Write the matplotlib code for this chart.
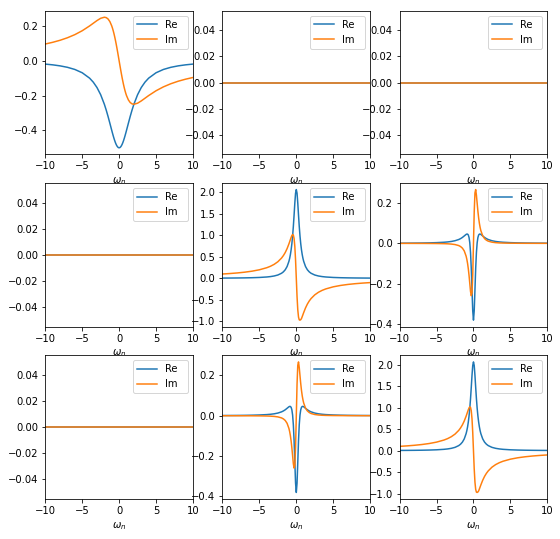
import matplotlib
matplotlib.use("Agg")
import matplotlib.pyplot as plt
import numpy as np

# Matsubara-frequency grid (x values)
omega_n = [-10, -9, -8, -7, -6, -5, -4, -3.5, -3, -2.5, -2, -1.75, -1.5, -1.25, -1,
           -0.9, -0.8, -0.7, -0.6, -0.5, -0.4, -0.3, -0.2, -0.1, 0,
           0.1, 0.2, 0.3, 0.4, 0.5, 0.6, 0.7, 0.8, 0.9, 1, 1.25, 1.5, 1.75, 2,
           2.5, 3, 3.5, 4, 5, 6, 7, 8, 9, 10]

# Component (0,0)
g00_re = [-0.0192, -0.0235, -0.0294, -0.0377, -0.0500, -0.0690, -0.1000, -0.1231, -0.1538,
          -0.1951, -0.2500, -0.2832, -0.3200, -0.3596, -0.4000, -0.4158, -0.4310, -0.4454,
          -0.4587, -0.4706, -0.4808, -0.4890, -0.4950, -0.4988, -0.5000,
          -0.4988, -0.4950, -0.4890, -0.4808, -0.4706, -0.4587, -0.4454, -0.4310, -0.4158,
          -0.4000, -0.3596, -0.3200, -0.2832, -0.2500, -0.1951, -0.1538, -0.1231, -0.1000,
          -0.0690, -0.0500, -0.0377, -0.0294, -0.0235, -0.0192]
g00_im = [0.0962, 0.1059, 0.1176, 0.1321, 0.1500, 0.1724, 0.2000, 0.2154, 0.2308, 0.2439,
          0.2500, 0.2478, 0.2400, 0.2247, 0.2000, 0.1871, 0.1724, 0.1559, 0.1376, 0.1176,
          0.0962, 0.0733, 0.0495, 0.0249, 0.0,
          -0.0249, -0.0495, -0.0733, -0.0962, -0.1176, -0.1376, -0.1559, -0.1724, -0.1871,
          -0.2000, -0.2247, -0.2400, -0.2478, -0.2500, -0.2439, -0.2308, -0.2154, -0.2000,
          -0.1724, -0.1500, -0.1321, -0.1176, -0.1059, -0.0962]

# Diagonal components (1,1) and (2,2)
g11_re = [0.0050, 0.0062, 0.0078, 0.0101, 0.0138, 0.0198, 0.0307, 0.0399, 0.0539, 0.0766,
          0.1170, 0.1499, 0.1982, 0.2727, 0.3941, 0.4640, 0.5518, 0.6630, 0.8041, 0.9828,
          1.2048, 1.4675, 1.7462, 1.9772, 2.0602,
          1.9772, 1.7462, 1.4675, 1.2048, 0.9828, 0.8041, 0.6630, 0.5518, 0.4640, 0.3941,
          0.2727, 0.1982, 0.1499, 0.1170, 0.0766, 0.0539, 0.0399, 0.0307, 0.0198, 0.0138,
          0.0101, 0.0078, 0.0062, 0.0050]
g11_im = [0.0997, 0.1108, 0.1245, 0.1421, 0.1655, 0.1980, 0.2460, 0.2798, 0.3241, 0.3842,
          0.4699, 0.5274, 0.5987, 0.6883, 0.7989, 0.8486, 0.8998, 0.9496, 0.9921, 1.0167,
          1.0044, 0.9255, 0.7405, 0.4221, 0.0,
          -0.4221, -0.7300, -0.9000, -0.9650, -0.9710, -0.9600, -0.9350, -0.8900, -0.8430,
          -0.7960, -0.6870, -0.5980, -0.5270, -0.4699, -0.3842, -0.3241, -0.2798, -0.2460,
          -0.1980, -0.1655, -0.1421, -0.1245, -0.1108, -0.0997]

# Off-diagonal components (1,2) and (2,1)
g12_re = [0.0009, 0.0011, 0.0014, 0.0018, 0.0025, 0.0036, 0.0055, 0.0071, 0.0094, 0.0131,
          0.0191, 0.0236, 0.0294, 0.0368, 0.0443, 0.0462, 0.0459, 0.0415, 0.0291, 0.0031,
          -0.0451, -0.1234, -0.2300, -0.3349, -0.3810,
          -0.3349, -0.2300, -0.1234, -0.0451, 0.0031, 0.0291, 0.0415, 0.0459, 0.0462,
          0.0443, 0.0368, 0.0294, 0.0236, 0.0191, 0.0131, 0.0094, 0.0071, 0.0055, 0.0036,
          0.0025, 0.0018, 0.0014, 0.0011, 0.0009]
g12_im = [-0.0001, -0.0001, -0.0002, -0.0003, -0.0005, -0.0008, -0.0015, -0.0022, -0.0035,
          -0.0059, -0.0109, -0.0158, -0.0237, -0.0375, -0.0631, -0.0789, -0.0995, -0.1261,
          -0.1594, -0.1987, -0.2385, -0.2600, -0.2465, -0.1562, 0.0,
          0.1562, 0.2500, 0.2670, 0.2385, 0.1987, 0.1594, 0.1261, 0.0995, 0.0789, 0.0631,
          0.0375, 0.0237, 0.0158, 0.0109, 0.0059, 0.0035, 0.0022, 0.0015, 0.0008, 0.0005,
          0.0003, 0.0002, 0.0001, 0.0001]

# Zero components
zero_re = [0.0] * len(omega_n)
zero_im = [0.0] * len(omega_n)

series_labels = ["Re", "Im"]

panels = [
    [(g00_re, g00_im), (zero_re, zero_im), (zero_re, zero_im)],
    [(zero_re, zero_im), (g11_re, g11_im), (g12_re, g12_im)],
    [(zero_re, zero_im), (g12_re, g12_im), (g11_re, g11_im)],
]

fig, axes = plt.subplots(3, 3, figsize=(560 / 72, 539 / 72), dpi=72)
fig.subplots_adjust(left=45.3 / 560, right=547.3 / 560, top=1 - 10.7 / 539,
                    bottom=1 - 499 / 539, wspace=0.2, hspace=0.2)

for i in range(3):
    for j in range(3):
        ax = axes[i, j]
        re, im = panels[i][j]
        ax.plot(omega_n, re, label=series_labels[0] + "  ")
        ax.plot(omega_n, im, label=series_labels[1] + "  ")
        ax.set_xlim(-10, 10)
        ax.set_xticks([-10, -5, 0, 5, 10])
        ax.set_xlabel(r"$\omega_n$")
        ax.legend(loc="upper right")

fig.savefig("out.png", dpi=72)
